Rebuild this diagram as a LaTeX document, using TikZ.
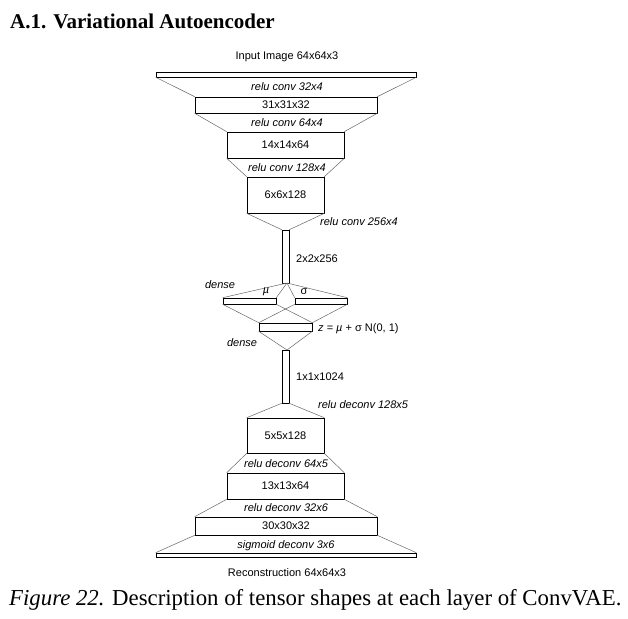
\documentclass[tikz,border=0pt]{standalone}
\usepackage{fontspec}
\setmainfont{Liberation Serif}
\newfontfamily\diag{Liberation Sans}
\usepackage{tikz}

\begin{document}
\begin{tikzpicture}[x=1pt, y=-1pt,
        layer/.style={draw, inner sep=0pt, line width=0.6pt, font=\diag\fontsize{11}{12}\selectfont},
        lbl/.style={font=\diag\fontsize{11}{12}\selectfont, inner sep=0pt},
        op/.style={lbl, font=\diag\itshape\fontsize{11}{12}\selectfont},
        link/.style={draw=black!60, line width=0.5pt}
        ]
        \useasboundingbox (0,0) rectangle (628,618);

        \node[anchor=west, font=\bfseries\fontsize{21}{24}\selectfont, inner sep=0pt] (title) at (10,21) {A.1. Variational Autoencoder};

        % encoder
        \node[lbl] (inlbl) at (287,57) {Input Image 64x64x3};
        \node[layer, minimum width=260, minimum height=5] (in) at (286,74.5) {};
        \node[layer, minimum width=182, minimum height=16] (c1) at (286,105) {31x31x32};
        \node[layer, minimum width=117, minimum height=26] (c2) at (285.5,145) {14x14x64};
        \node[layer, minimum width=77, minimum height=36] (c3) at (285.5,195) {6x6x128};
        \node[layer, minimum width=7, minimum height=53] (c4) at (285.5,256.5) {};

        \draw[link] (in.south west) -- (c1.north west) (in.south east) -- (c1.north east);
        \draw[link] (c1.south west) -- (c2.north west) (c1.south east) -- (c2.north east);
        \draw[link] (c2.south west) -- (c3.north west) (c2.south east) -- (c3.north east);
        \draw[link] (c3.south west) -- (c4.north west) (c3.south east) -- (c4.north east);

        \node[op] (o1) at (287,87) {relu conv 32x4};
        \node[op] (o2) at (287,123) {relu conv 64x4};
        \node[op] (o3) at (287,168) {relu conv 128x4};
        \node[op, anchor=west] (o4) at (320,222) {relu conv 256x4};
        \node[lbl, anchor=west] (s4) at (296,259) {2x2x256};

        % latent
        \coordinate (top) at (287,283);
        \node[layer, minimum width=53, minimum height=6] (mu) at (249.5,301) {};
        \node[layer, minimum width=52, minimum height=6] (sig) at (321,301) {};
        \node[layer, minimum width=53, minimum height=8] (z) at (285.5,327) {};
        \coordinate (bot) at (287,350);
        \node[layer, minimum width=7, minimum height=53] (d1) at (285.5,376.5) {};

        \draw[link] (top) -- (mu.north west) (top) -- (mu.north east);
        \draw[link] (top) -- (sig.north west) (top) -- (sig.north east);
        \draw[link] (mu.south west) -- (z.north west) (mu.south east) -- (z.north east);
        \draw[link] (sig.south west) -- (z.north west) (sig.south east) -- (z.north east);
        \draw[link] (z.south west) -- (bot) -- (z.south east);

        \node[op] (dense1) at (220,285) {dense};
        \node[op] (mulbl) at (266,292) {µ};
        \node[lbl] (siglbl) at (304,292) {σ};
        \node[lbl, anchor=west] (zlbl) at (318,329) {\textit{z} = \textit{µ} + σ N(0, 1)};
        \node[op] (dense2) at (242,343) {dense};
        \node[lbl, anchor=west] (s5) at (296,377) {1x1x1024};

        % decoder
        \node[layer, minimum width=77, minimum height=35] (u1) at (285.5,435.5) {5x5x128};
        \node[layer, minimum width=117, minimum height=26] (u2) at (285.5,486) {13x13x64};
        \node[layer, minimum width=182, minimum height=18] (u3) at (286,526) {30x30x32};
        \node[layer, minimum width=260, minimum height=4] (out) at (286,555) {};

        \draw[link] (d1.south west) -- (u1.north west) (d1.south east) -- (u1.north east);
        \draw[link] (u1.south west) -- (u2.north west) (u1.south east) -- (u2.north east);
        \draw[link] (u2.south west) -- (u3.north west) (u2.south east) -- (u3.north east);
        \draw[link] (u3.south west) -- (out.north west) (u3.south east) -- (out.north east);

        \node[op, anchor=west] (p1) at (318,405) {relu deconv 128x5};
        \node[op] (p2) at (286,464) {relu deconv 64x5};
        \node[op] (p3) at (286,508) {relu deconv 32x6};
        \node[op] (p4) at (286,546) {sigmoid deconv 3x6};
        \node[lbl] (outlbl) at (287,573) {Reconstruction 64x64x3};

        \node[anchor=west, font=\fontsize{22.8}{24}\selectfont, inner sep=0pt] (caption) at (9,600) {\textit{Figure 22.} Description of tensor shapes at each layer of ConvVAE.};
\end{tikzpicture}
\end{document}
